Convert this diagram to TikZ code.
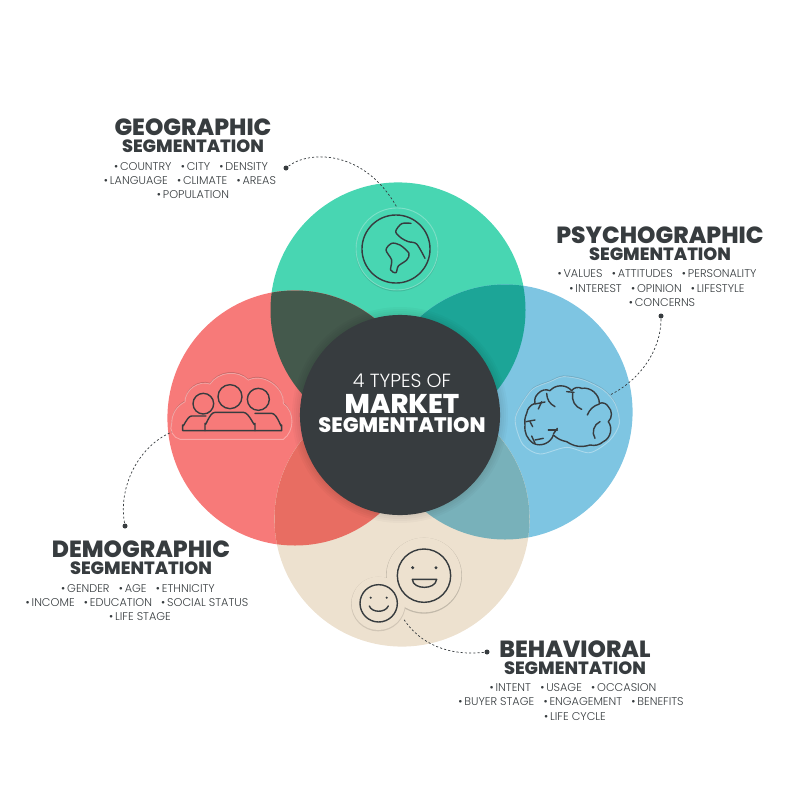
\documentclass[tikz,border=0pt]{standalone}
\usepackage{fontspec}
\setmainfont{Poppins}
\newfontfamily\lightfont{Poppins Light}
\newfontfamily\heavyfont{Poppins ExtraBold}
\usetikzlibrary{positioning}
\definecolor{topgreen}{HTML}{48D6B2}
\definecolor{leftred}{HTML}{F77A79}
\definecolor{rightblue}{HTML}{7EC5E2}
\definecolor{lowbeige}{HTML}{EDE1CF}
\definecolor{greenred}{HTML}{44594C}
\definecolor{greenblue}{HTML}{1CA597}
\definecolor{redbeige}{HTML}{E86D62}
\definecolor{bluebeige}{HTML}{78B1BA}
\definecolor{darkhub}{HTML}{373C3F}
\begin{document}
\begin{tikzpicture}[x=0.01cm,y=-0.01cm]
  \tikzstyle{disc}=[circle,inner sep=0,minimum size=2.55cm]
  \tikzstyle{badge}=[circle,inner sep=0,draw=white,draw opacity=0.3,line width=0.25pt]
  \tikzstyle{icon}=[draw=darkhub,line width=0.4pt,line cap=round,line join=round]
  \tikzstyle{head}=[text=darkhub,inner sep=0,font=\heavyfont\fontsize{6.65}{7}\selectfont]
  \tikzstyle{subhead}=[text=darkhub,inner sep=0,font=\heavyfont\fontsize{5.05}{6}\selectfont]
  \tikzstyle{item}=[text=darkhub,inner sep=0,font=\lightfont\fontsize{3.2}{4}\selectfont]
  \tikzstyle{pin}=[circle,fill=darkhub,inner sep=0,minimum size=0.05cm]
  \tikzstyle{lead}=[draw=darkhub,line width=0.2pt,dash pattern=on 0.6pt off 0.6pt]
  \useasboundingbox (0,0) rectangle (800,800);

  \node[disc,fill=topgreen] (C_top) at (398,310) {};
  \node[disc,fill=leftred] (C_left) at (295,418) {};
  \node[disc,fill=rightblue] (C_right) at (505,412) {};
  \node[disc,fill=lowbeige] (C_low) at (402,519) {};
  \begin{scope}
    \clip (398,310) circle (127.5);
    \fill[greenred] (295,418) circle (127.5);
    \fill[greenblue] (505,412) circle (127.5);
  \end{scope}
  \begin{scope}
    \clip (402,519) circle (127.5);
    \fill[redbeige] (295,418) circle (127.5);
    \fill[bluebeige] (505,412) circle (127.5);
  \end{scope}
  \foreach \r in {102,104,106,108}
    \fill[black,opacity=0.025] (400,415) circle (\r);
  \node[disc,fill=darkhub,minimum size=2cm] (C_hub) at (400,415) {};
  \node[text=white,inner sep=0,font=\lightfont\fontsize{5.4}{7}\selectfont] (T_hub1) at (402,381) {4 TYPES OF};
  \node[text=white,inner sep=0,font=\heavyfont\fontsize{7.7}{8}\selectfont] (T_hub2) at (402,404) {MARKET};
  \node[text=white,inner sep=0,font=\heavyfont\fontsize{5.95}{6}\selectfont] (T_hub3) at (402,425) {SEGMENTATION};

  % globe
  \fill[black!12!topgreen] (397,250) circle (41.5);
  \node[badge,fill=topgreen,minimum size=0.82cm] (B_geo) at (397,249) {};
  \node[circle,icon,inner sep=0,minimum size=0.68cm] (I_geo) at (396,249) {};
  \begin{scope}[shift={(260,180)},scale=1/3]
    \draw[icon] plot[smooth] coordinates {(453,130) (425,131) (407,155) (425,175) (445,185) (470,192) (495,235)};
    \draw[icon] plot[smooth cycle] coordinates {(378,210) (395,190) (420,195) (447,220) (440,240) (415,258) (408,278) (392,270) (395,240)};
  \end{scope}

  % people
  \begin{scope}[shift={(160,360)},scale=1/3]
    \fill[black!18!leftred,yshift=1pt] (60,238) to[bend left=50] (35,190) to[bend left=30] (75,125) to[bend left=55] (150,72) to[bend left=50] (265,60) to[bend left=60] (370,130) to[bend left=55] (370,238) -- cycle;
    \path[fill=leftred,draw=white,draw opacity=0.35,line width=0.25pt] (60,238) to[bend left=50] (35,190) to[bend left=30] (75,125) to[bend left=55] (150,72) to[bend left=50] (265,60) to[bend left=60] (370,130) to[bend left=55] (370,238) -- cycle;
    \draw[icon] (130,131) circle (31);
    \draw[icon] (210,110) circle (36);
    \draw[icon] (295,118) circle (33);
    \draw[icon] (135,212) -- (135,190) to[out=-90,in=180] (165,157) -- (250,157) to[out=0,in=-90] (285,190) -- (285,212);
    \draw[icon] (138,168) -- (95,168) to[out=180,in=-90] (68,195) -- (68,212) -- (365,212) -- (365,195) to[out=-90,in=0] (335,160) -- (285,160);
  \end{scope}

  % brain
  \begin{scope}[shift={(500,360)},scale=1/3]
    \fill[black!14!rightblue,yshift=1pt] plot[smooth cycle] coordinates {(50,160) (95,90) (150,65) (190,50) (250,60) (310,90) (345,130) (358,190) (330,240) (270,278) (200,262) (120,282) (70,255) (48,200)};
    \path[fill=rightblue,draw=white,draw opacity=0.35,line width=0.25pt] plot[smooth cycle] coordinates {(50,160) (95,90) (150,65) (190,50) (250,60) (310,90) (345,130) (358,190) (330,240) (270,278) (200,262) (120,282) (70,255) (48,200)};
    \draw[icon] (75,195) to[bend left=15] (80,160) to[bend left=30] (105,130) to[bend left=30] (115,100) to[bend left=35] (150,92) to[bend left=50] (215,92) to[bend left=40] (245,85) to[bend left=50] (298,130) to[bend left=40] (325,140) to[bend left=45] (325,185) to[bend left=50] (310,245) to[bend left=25] (270,255) to[bend left=25] (200,245) to[bend left=15] (160,225) to[bend left=50] (100,250) to[bend left=30] (75,195);
    \draw[icon] (200,95) -- (222,97);
    \draw[icon] (218,100) to[bend right=40] (245,148);
    \draw[icon] (140,100) to[bend right=30] (165,140);
    \draw[icon] (105,132) -- (135,126);
    \draw[icon] (125,125) -- (115,147);
    \draw[icon] (298,132) to[bend right=25] (262,165);
    \draw[icon] (300,185) to[bend right=50] (285,235);
    \draw[icon] (145,210) -- (172,210);
    \draw[icon] (172,205) -- (160,222);
    \draw[icon] (78,185) -- (105,180);
    \draw[icon] (90,185) -- (98,200);
    \draw[icon] (95,228) -- (105,250);
    \draw[icon] (105,240) -- (130,235);
  \end{scope}

  % faces
  \begin{scope}[shift={(340,530)},scale=1/3]
    \fill[black!18!lowbeige] (252,137) circle (114);
    \fill[black!12!lowbeige] (115,222) circle (82);
    \fill[lowbeige] (252,135) circle (112);
    \fill[lowbeige] (115,220) circle (80);
    \draw[icon] (252,137) circle (80);
    \fill[darkhub] (218,113) circle (5);
    \fill[darkhub] (288,113) circle (5);
    \draw[icon] (217,148) -- (290,148) .. controls (288,165) and (270,172) .. (253,172) .. controls (236,172) and (218,165) .. (217,148);
    \draw[icon] (116,220) circle (56);
    \fill[darkhub] (92,203) circle (3.5);
    \fill[darkhub] (140,203) circle (3.5);
    \draw[icon] (88,228) .. controls (95,248) and (135,250) .. (145,228);
  \end{scope}

  % leaders
  \coordinate (E_psy) at (610,395);
  \coordinate (E_dem) at (172,432);
  \coordinate (E_beh) at (403,618);
  \node[pin] (P_geo) at (286,168) {};
  \node[pin] (P_psy) at (661,316) {};
  \node[pin] (P_dem) at (125,526) {};
  \node[pin] (P_beh) at (487,652) {};
  \draw[lead] (P_geo) .. controls (310,150) and (365,150) .. (B_geo.north);
  \draw[lead] (P_psy) .. controls (661,350) and (640,380) .. (E_psy);
  \draw[lead] (P_dem) .. controls (118,485) and (140,445) .. (E_dem);
  \draw[lead] (P_beh) .. controls (450,656) and (420,645) .. (E_beh);

  % texts
  \node[head] (T_geo) at (193,127.5) {GEOGRAPHIC};
  \node[subhead] (S_geo) at (193,146.5) {SEGMENTATION};
  \node[item] (L_geo1) at (191,167) {•\,COUNTRY\ \ \ •\,CITY\ \ \ •\,DENSITY};
  \node[item] (L_geo2) at (190,181) {•\,LANGUAGE\ \ \ •\,CLIMATE\ \ \ •\,AREAS};
  \node[item] (L_geo3) at (193,195) {•\,POPULATION};

  \node[head] (T_psy) at (660,235.5) {PSYCHOGRAPHIC};
  \node[subhead] (S_psy) at (660,254.5) {SEGMENTATION};
  \node[item] (L_psy1) at (657,274) {•\,VALUES\ \ \ •\,ATTITUDES\ \ \ •\,PERSONALITY};
  \node[item] (L_psy2) at (657,289) {•\,INTEREST\ \ \ •\,OPINION\ \ \ •\,LIFESTYLE};
  \node[item] (L_psy3) at (662,303) {•\,CONCERNS};

  \node[head] (T_dem) at (141,549.5) {DEMOGRAPHIC};
  \node[subhead] (S_dem) at (141,568.5) {SEGMENTATION};
  \node[item] (L_dem1) at (138,589) {•\,GENDER\ \ \ •\,AGE\ \ \ •\,ETHNICITY};
  \node[item] (L_dem2) at (137,603) {•\,INCOME\ \ \ •\,EDUCATION\ \ \ •\,SOCIAL STATUS};
  \node[item] (L_dem3) at (140,617) {•\,LIFE STAGE};

  \node[head] (T_beh) at (575,649.5) {BEHAVIORAL};
  \node[subhead] (S_beh) at (575,668.5) {SEGMENTATION};
  \node[item] (L_beh1) at (573,688) {•\,INTENT\ \ \ •\,USAGE\ \ \ •\,OCCASION};
  \node[item] (L_beh2) at (571,702) {•\,BUYER STAGE\ \ \ •\,ENGAGEMENT\ \ \ •\,BENEFITS};
  \node[item] (L_beh3) at (575,717) {•\,LIFE CYCLE};
\end{tikzpicture}
\end{document}
